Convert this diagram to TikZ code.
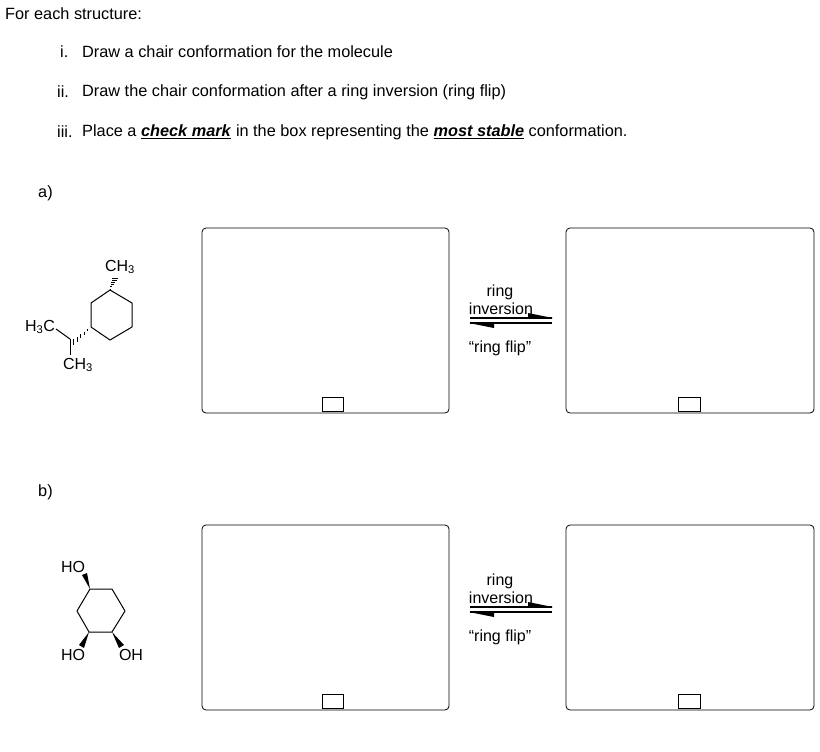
\documentclass[tikz,border=0pt]{standalone}
\usepackage{fontspec}
\setmainfont{Liberation Sans}
\usetikzlibrary{calc}
\begin{document}
\begin{tikzpicture}[x=1pt,y=-1pt,
  txt/.style={anchor=west,inner sep=0pt,font=\fontsize{16.3}{18}\selectfont},
  lbl/.style={inner sep=0pt,font=\fontsize{16}{18}\selectfont},
  bigbox/.style={draw,rounded corners=4pt,line width=0.8pt},
  chk/.style={draw,line width=1pt},
  bond/.style={line width=1pt}]
\useasboundingbox (0,0) rectangle (820,752);
\node[txt] (t0) at (5,14) {For each structure:};
\node[txt] (n1) at (60,52) {i.};
\node[txt] (t1) at (82,52) {Draw a chair conformation for the molecule};
\node[txt] (n2) at (57,92) {ii.};
\node[txt] (t2) at (82,92) {Draw the chair conformation after a ring inversion (ring flip)};
\node[txt] (n3) at (57,132) {iii.};
\node[txt] (t3) at (82,132) {Place a \underline{\textbf{\textit{check mark}}} in the box representing the \underline{\textbf{\textit{most stable}}} conformation.};
\node[txt] (la) at (38,193) {a)};
\node[txt] (lb) at (38,492) {b)};
% boxes
\foreach \y/\n in {228/a,525/b}{
  \draw[bigbox] (202,\y) rectangle (449,\y+185);
  \draw[bigbox] (566,\y) rectangle (814,\y+185);
  \draw[chk] (322,\y+169) rectangle (343,\y+183);
  \draw[chk] (678,\y+169) rectangle (700,\y+183);
}
% arrows
\foreach \d in {0,289}{
  \node[lbl] at (500,292+\d) {ring};
  \node[lbl] at (501,309+\d) {inversion};
  \node[lbl] at (500,348+\d) {“ring flip”};
  \draw[line width=1.2pt] (470,318+\d) -- (552,318+\d);
  \fill (553,318+\d) -- (528,313+\d) -- (528,318+\d) -- cycle;
  \draw[line width=1.2pt] (470,323+\d) -- (552,323+\d);
  \fill (469,323+\d) -- (494,328+\d) -- (494,323+\d) -- cycle;
}
% molecule a
\coordinate (a1) at (110,290);
\coordinate (a2) at (132,303);
\coordinate (a3) at (132,327);
\coordinate (a4) at (110,340);
\coordinate (a5) at (91,327);
\coordinate (a6) at (91,303);
\draw[bond,line join=round] (a1)--(a2)--(a3)--(a4)--(a5)--(a6)--cycle;
\foreach \i in {0,...,5}{
  \draw[line width=0.8pt] ($(110,290)+(-{0.5+0.5*\i},-2.2*\i-1)$) -- ++({1+\i},0);
}
\node[lbl] (ch3a) at (120,267) {CH\textsubscript{3}};
\coordinate (ip) at (70,339);
\foreach \i in {0,...,5}{
  \draw[line width=0.8pt] ($(a5)!{\i/6}!(ip)+(0,-{0.5+0.5*\i})$) -- ++(0,{1+\i});
}
\draw[bond] (ip) -- (56,329);
\draw[bond] (ip) -- (70,355);
\node[lbl] (h3c) at (40,327) {H\textsubscript{3}C};
\node[lbl] (ch3b) at (78,365) {CH\textsubscript{3}};
% molecule b
\coordinate (b1) at (90,589);
\coordinate (b2) at (112,589);
\coordinate (b3) at (125,611);
\coordinate (b4) at (112,632);
\coordinate (b5) at (89,632);
\coordinate (b6) at (77,611);
\draw[bond,line join=round] (b1)--(b2)--(b3)--(b4)--(b5)--(b6)--cycle;
\fill (b1) -- (82,575) -- (87,573) -- cycle;
\fill (b5) -- (79,645) -- (84,648) -- cycle;
\fill (b4) -- (119,648) -- (124,645) -- cycle;
\node[lbl] (ho1) at (73,567) {HO};
\node[lbl] (ho2) at (73,655) {HO};
\node[lbl] (oh) at (131,655) {OH};
\end{tikzpicture}
\end{document}
